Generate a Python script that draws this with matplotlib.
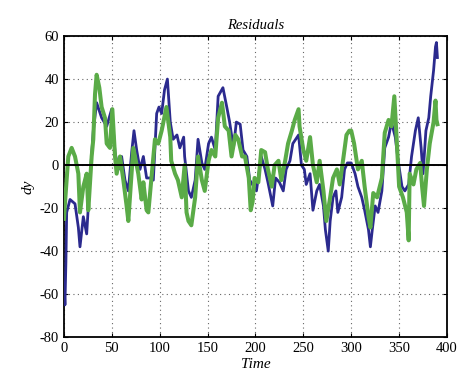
import matplotlib
matplotlib.use("Agg")
import matplotlib.pyplot as plt

# values
t_blue = [0, 1, 2, 2.8, 6.3, 11.5, 15, 16.7, 20.2, 23.7, 27.2, 30.6, 34.1, 39.3, 44.6, 49.8,
          53.3, 56.8, 60.2, 63.7, 67.2, 70.7, 73.1, 75.9, 79.4, 82.9, 86.3, 89.8, 93.3, 96.8,
          99.2, 102, 105, 108, 111, 114, 118, 121, 125, 126, 130, 133, 137, 140, 144, 147, 151,
          154, 158, 161, 166, 170, 173, 177, 180, 184, 187, 191, 194, 201, 206, 210, 213, 218,
          221, 225, 229, 232, 236, 239, 245, 248, 251, 253, 257, 260, 264, 267, 271, 273, 276,
          278, 281, 284, 286, 290, 293, 296, 300, 304, 307, 311, 314, 318, 320, 322, 325, 328,
          332, 335, 339, 342, 346, 349, 353, 356, 360, 363, 367, 370, 373, 375, 378, 381, 383,
          386, 388, 389, 390]
y_blue = [-55, -65, -45, -22, -16, -18, -29, -38, -24, -32, -6, 16, 29, 22, 18, 26, 6, -2, 4, -7,
          -12, 6, 16, 7, -2, 4, -6, -6, -7, 24, 27, 24, 35, 40, 20, 12, 14, 8, 13, 4, -12, -15, -7,
          12, 1, -2, 10, 13, 7, 32, 36, 27, 20, 8, 20, 19, 7, 4, -7, -12, 4, -2, -8, -19, -6, -8,
          -12, -2, 2, 10, 14, 0, -2, -9, -4, -21, -12, -9, -19, -30, -40, -26, -15, -12, -22, -15,
          -2, 1, 1, -4, -10, -15, -21, -30, -38, -30, -19, -22, -12, 8, 13, 20, 13, 2, -10, -12,
          -9, 4, 16, 22, 8, -4, 16, 22, 32, 44, 55, 57, 50]

t_green = [0, 1, 4.5, 8, 11.5, 15, 16.7, 20.2, 23.7, 25.4, 28.9, 30.6, 32.4, 34.1, 36.9, 39.3,
           42.8, 44.6, 48, 50.5, 53.3, 55, 58.5, 62, 65.4, 67.2, 72.4, 77.6, 81.1, 82.9, 86.3,
           88.1, 95, 98.5, 102, 107, 111, 112, 116, 119, 123, 126, 128, 130, 133, 137, 140, 144,
           147, 151, 154, 158, 161, 165, 168, 172, 175, 179, 182, 186, 189, 193, 195, 197, 199,
           203, 206, 210, 213, 217, 220, 224, 227, 231, 234, 238, 241, 245, 246, 250, 253, 257,
           260, 264, 267, 271, 274, 278, 281, 285, 288, 292, 295, 298, 300, 303, 307, 311, 314,
           318, 320, 323, 327, 332, 335, 339, 342, 345, 347, 350, 354, 358, 360, 361, 365, 368,
           372, 374, 376, 379, 382, 386, 388, 389, 390]
y_green = [-25, -18, 4, 8, 4, -4, -22, -10, -4, -21, 4, 12, 33, 42, 36, 27, 22, 10, 8, 26, 4, -4,
           4, -7, -19, -26, 8, -4, -16, -8, -21, -22, 12, 10, 16, 27, 13, 2, -4, -7, -15, 0, -22,
           -26, -28, -15, 4, -7, -12, 2, 7, 4, 22, 29, 18, 16, 4, 14, 12, 4, 4, -6, -21, -17, -6,
           -8, 7, 6, -2, -10, 0, 2, -7, 2, 10, 16, 21, 26, 18, 7, 2, 13, 0, -8, 2, -12, -26, -15,
           -6, -2, -9, 4, 14, 16, 16, 10, -2, 2, -10, -24, -29, -13, -15, -6, 15, 21, 18, 32, 16,
           -10, -15, -22, -35, -4, -9, -2, 1, -10, -19, -2, 10, 20, 30, 21, 19]

x_ticks = [0, 50, 100, 150, 200, 250, 300, 350, 400]
y_ticks = [-80, -60, -40, -20, 0, 20, 40, 60]

plt.rcParams["font.family"] = ["Liberation Serif", "DejaVu Serif"]
plt.rcParams["axes.unicode_minus"] = False

fig = plt.figure(figsize=(4.74, 3.92), dpi=100)
ax = fig.add_axes([0.135, 0.140, 0.808, 0.768])

ax.plot(t_blue, y_blue, color="#2b2a8e", lw=2.0, zorder=3)
ax.plot(t_green, y_green, color="#5aab47", lw=2.9, zorder=4)
ax.axhline(0, color="black", lw=1.4, zorder=5)

ax.set_xlim(0, 400)
ax.set_ylim(-80, 60)
ax.set_xticks(x_ticks)
ax.set_yticks(y_ticks)
ax.grid(True, linestyle=(0, (1, 3)), color="#666666", lw=0.8)
ax.tick_params(direction="in", top=True, right=True, labelsize=10.5, length=3)
for s in ax.spines.values():
    s.set_linewidth(1.3)

ax.set_title("Residuals", fontstyle="italic", fontsize=10.5, pad=5)
ax.set_xlabel("Time", fontstyle="italic", fontsize=11, labelpad=2)
ax.set_ylabel("dy", fontstyle="italic", fontsize=11, labelpad=4)

fig.savefig("out.png", dpi=100)
